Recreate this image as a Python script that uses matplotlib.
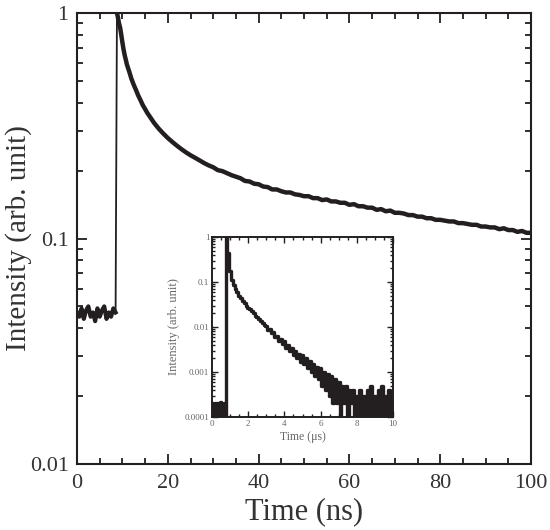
import numpy as np
import matplotlib
matplotlib.use("Agg")
import matplotlib.pyplot as plt
from matplotlib.ticker import MultipleLocator, LogLocator, NullFormatter, FixedFormatter, FixedLocator

plt.rcParams["font.family"] = ["Liberation Serif", "DejaVu Serif"]

# main trace: time (ns) vs normalised intensity
main_t = [0.0, 0.5, 1.0, 1.5, 2.0, 2.5, 3.0, 3.5, 4.0, 4.5, 5.0, 5.5, 6.0, 6.5,
          7.0, 7.5, 8.0, 8.5,
          8.8, 9.0, 9.25, 9.5, 9.75, 10.0, 10.25, 10.5, 10.75, 11.0, 11.5, 12.0,
          12.5, 13.0, 13.5, 14.0, 14.5, 15.0, 15.5, 16.0, 17, 18, 19, 20, 21, 22,
          23, 24, 25, 26, 27, 28, 29,
          30, 31, 32, 33, 34, 35, 36, 37, 38, 39, 40, 41, 42, 43, 44, 45, 46, 47,
          48, 49, 50, 51, 52, 53, 54, 55, 56, 57, 58, 59, 60, 61, 62, 63, 64, 65,
          66, 67, 68, 69, 70, 71, 72, 73, 74, 75, 76, 77, 78, 79, 80, 81, 82, 83,
          84, 85, 86, 87, 88, 89, 90, 91, 92, 93, 94, 95, 96, 97, 98, 99, 100]
main_I = [0.047, 0.045, 0.049, 0.044, 0.048, 0.050, 0.045, 0.047, 0.043, 0.049,
          0.045, 0.048, 0.050, 0.044, 0.047, 0.045, 0.049, 0.047,
          1.0, 0.96, 0.90, 0.86, 0.80, 0.74, 0.69, 0.65, 0.62, 0.59, 0.55, 0.51,
          0.48, 0.455, 0.43, 0.41, 0.39, 0.375, 0.36, 0.348, 0.325, 0.307, 0.292,
          0.279, 0.268, 0.258, 0.249, 0.241, 0.234, 0.228, 0.222, 0.216, 0.211,
          0.207, 0.201, 0.199, 0.195, 0.191, 0.188, 0.185, 0.180, 0.179, 0.175,
          0.174, 0.170, 0.169, 0.165, 0.165, 0.162, 0.160, 0.160, 0.157, 0.156,
          0.154, 0.154, 0.151, 0.151, 0.148, 0.149, 0.146, 0.146, 0.144, 0.144,
          0.141, 0.142, 0.139, 0.139, 0.137, 0.137, 0.134, 0.135, 0.132, 0.133,
          0.130, 0.130, 0.129, 0.127, 0.127, 0.125, 0.125, 0.123, 0.123, 0.121,
          0.121, 0.120, 0.119, 0.119, 0.117, 0.117, 0.116, 0.115, 0.115, 0.113,
          0.113, 0.112, 0.112, 0.110, 0.111, 0.109, 0.109, 0.107, 0.108, 0.106,
          0.106]
n_base = 18  # points before the excitation pulse

# inset trace: time (us) vs photon counts (peak = 10000)
inset_t = [0.0, 0.05, 0.1, 0.15, 0.2, 0.25, 0.3, 0.35, 0.4, 0.45, 0.5, 0.55,
           0.6, 0.65, 0.7, 0.75,
           0.8, 0.9, 1.0, 1.1, 1.2, 1.3, 1.4, 1.5, 1.6, 1.7, 1.8, 1.9, 2.0, 2.1,
           2.2, 2.3, 2.4, 2.5, 2.6, 2.7, 2.8, 2.9, 3.0, 3.1, 3.2, 3.3, 3.4, 3.5,
           3.6, 3.7, 3.8, 3.9, 4.0, 4.1, 4.2, 4.3, 4.4, 4.5, 4.6, 4.7, 4.8, 4.9,
           5.0, 5.1, 5.2, 5.3, 5.4, 5.5, 5.6, 5.7, 5.8, 5.9, 6.0, 6.1, 6.2, 6.3,
           6.4, 6.5, 6.6, 6.7, 6.8, 6.9, 7.0, 7.1, 7.2, 7.3, 7.4, 7.5, 7.6, 7.7,
           7.8, 7.9, 8.0, 8.1, 8.2, 8.3, 8.4, 8.5, 8.6, 8.7, 8.8, 8.9, 9.0, 9.1,
           9.2, 9.3, 9.4, 9.5, 9.6, 9.7, 9.8, 9.9, 10.0]
inset_counts = [1, 2, 1, 1, 2, 1, 2, 1, 1, 2.2, 1, 2, 1, 1.5, 2, 1,
                10000, 4500, 1800, 1100, 850, 700, 590, 500, 440, 380, 340, 300,
                270, 245, 225, 205, 180, 165, 150, 135, 123, 112,
                108, 88, 90, 72, 76, 60, 64, 50, 55, 42, 48, 35, 40, 29, 34, 24,
                30, 20, 25, 17,
                24, 15, 20, 12, 18, 10, 15, 8, 13, 7, 12, 5, 10, 4, 9, 3, 8, 2,
                7, 2, 6, 1, 5, 2, 5, 1, 4, 2, 4, 1, 3, 1, 4, 1, 3, 1, 4, 1, 5, 1,
                3, 1, 4, 1, 5, 1, 3, 1, 4, 1, 2]
inset_peak = 10000

ink = "#231f20"
txt = "#333333"

fig = plt.figure(figsize=(5.5, 5.3), dpi=100)
ax = fig.add_axes([0.14, 0.1245, 0.8255, 0.851])
ax.plot(main_t, main_I, "-", color=ink, lw=1.3)
ax.plot(main_t[:n_base], main_I[:n_base], "-", color=ink, lw=3.0)
ax.plot(main_t[n_base:], main_I[n_base:], "-", color=ink, lw=3.2)
ax.set_yscale("log")
ax.set_xlim(0, 100)
ax.set_ylim(0.01, 1)
ax.xaxis.set_major_locator(MultipleLocator(20))
ax.xaxis.set_minor_locator(MultipleLocator(5))
ax.yaxis.set_major_locator(FixedLocator([0.01, 0.1, 1]))
ax.yaxis.set_major_formatter(FixedFormatter(["0.01", "0.1", "1"]))
ax.yaxis.set_minor_locator(LogLocator(base=10, subs=np.arange(2, 10)))
ax.yaxis.set_minor_formatter(NullFormatter())
ax.tick_params(which="both", direction="in", top=True, right=True,
               width=1.3, colors=ink, labelcolor=txt)
ax.tick_params(which="major", length=7, labelsize=16)
ax.tick_params(axis="x", which="major", pad=7)
ax.tick_params(axis="y", which="major", pad=6)
ax.tick_params(which="minor", length=4)
for s in ax.spines.values():
    s.set_linewidth(1.5)
    s.set_color(ink)
ax.set_xlabel("Time (ns)", fontsize=22, color=txt, labelpad=3)
ax.set_ylabel("Intensity (arb. unit)", fontsize=21, color=txt)
ax.yaxis.set_label_coords(-0.1, 0.5)

# inset with the long time window
ins = fig.add_axes([0.3855, 0.2132, 0.329, 0.3396])
ins.plot(inset_t, np.array(inset_counts) / inset_peak, color=ink, lw=2.4,
         drawstyle="steps-mid")
ins.set_yscale("log")
ins.set_xlim(0, 10)
ins.set_ylim(1e-4, 1)
ins.xaxis.set_major_locator(MultipleLocator(2))
ins.xaxis.set_minor_locator(MultipleLocator(0.5))
ins.yaxis.set_major_locator(FixedLocator([1e-4, 1e-3, 1e-2, 1e-1, 1]))
ins.yaxis.set_major_formatter(FixedFormatter(["0.0001", "0.001", "0.01", "0.1", "1"]))
ins.yaxis.set_minor_locator(LogLocator(base=10, subs=np.arange(2, 10)))
ins.yaxis.set_minor_formatter(NullFormatter())
ins.tick_params(which="both", direction="in", top=True, right=True,
                width=1.0, colors=ink, labelcolor="#666666")
ins.tick_params(which="major", length=4, labelsize=6.5, pad=2)
ins.tick_params(which="minor", length=2.2)
for s in ins.spines.values():
    s.set_linewidth(1.4)
    s.set_color(ink)
ins.set_xlabel("Time (\u03bcs)", fontsize=8.5, color="#666666", labelpad=2)
ins.set_ylabel("Intensity (arb. unit)", fontsize=9, color="#666666", labelpad=3)

fig.savefig("out.png", dpi=100)
